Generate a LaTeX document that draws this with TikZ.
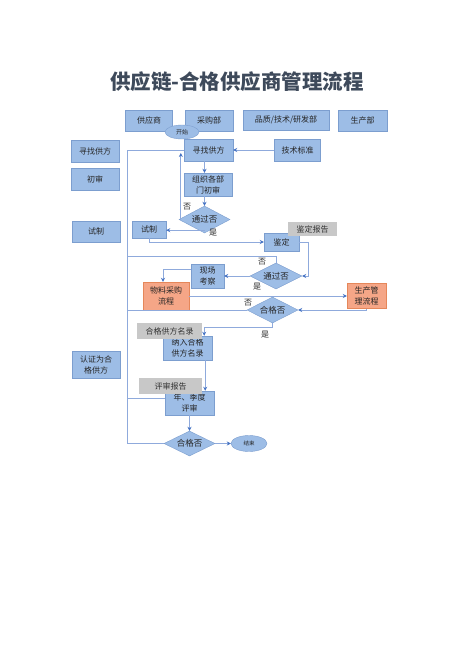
\documentclass[tikz,border=0pt]{standalone}
\usepackage{fontspec}
\setmainfont{Noto Sans CJK SC}
\usetikzlibrary{shapes.geometric,calc,shadows,arrows.meta}

\definecolor{boxfill}{HTML}{9DBDE6}
\definecolor{boxline}{HTML}{7C9ECF}
\definecolor{linkc}{HTML}{8FAADC}
\definecolor{tipc}{HTML}{4472C4}
\definecolor{orfill}{HTML}{F5A687}
\definecolor{orline}{HTML}{E5875A}
\definecolor{grfill}{HTML}{C8C8C8}
\definecolor{titlec}{HTML}{3E4A5B}

\tikzset{
	sz/.style 2 args={minimum width=#1, minimum height=#2},
	blk/.style={draw=boxline, fill=boxfill, inner sep=1pt, align=center,
		font=\fontsize{8}{11}\selectfont, text=black!85,
		drop shadow={opacity=.25, shadow xshift=.7pt, shadow yshift=-.7pt}},
	orbox/.style={blk, draw=orline, fill=orfill},
	note/.style={fill=grfill, inner sep=1pt, font=\fontsize{8}{10}\selectfont, text=black!80},
	dia/.style={diamond, aspect=2, draw=boxline, fill=boxfill, inner sep=0pt,
		font=\fontsize{8.5}{10}\selectfont, text=black!85},
	oval/.style={ellipse, draw=boxline, fill=boxfill, inner sep=0pt, text=black!85},
	tag/.style={inner sep=0pt, font=\fontsize{8}{10}\selectfont, text=black!85},
	link/.style={draw=linkc, line width=.8pt},
	arr/.style={link, -{Stealth[length=4pt, width=4pt, color=tipc]}},
}

\begin{document}
\begin{tikzpicture}[x=1pt, y=-1pt]
	\fill[white] (0,0) rectangle (474,670);
	\useasboundingbox (0,0) rectangle (474,670);

	\node[text=titlec, font=\fontsize{20.5}{24}\selectfont\bfseries] (title) at (237,82) {供应链-合格供应商管理流程};

	% header row
	\node[blk, sz={47}{21}] (hsup) at (149,120.5) {供应商};
	\node[blk, sz={48}{21}] (hbuy) at (209,120.5) {采购部};
	\node[blk, sz={86}{20}] (hqa) at (286,120) {品质/技术/研发部};
	\node[blk, sz={49}{21}] (hpro) at (362.5,120.5) {生产部};
	\node[oval, sz={34}{14}, font=\fontsize{6}{7}\selectfont] (start) at (182,132) {开始};

	% left column
	\node[blk, sz={48}{22}] (lfind) at (95,151) {寻找供方};
	\node[blk, sz={48}{22}] (lfirst) at (95,179) {初审};
	\node[blk, sz={48}{21}] (ltrial) at (96,231.5) {试制};
	\node[blk, sz={48}{27}] (lcert) at (96,364.5) {认证为合\\格供方};

	% main flow
	\node[blk, sz={49}{22}] (find) at (208.5,150) {寻找供方};
	\node[blk, sz={46}{22}] (std) at (297.5,150) {技术标准};
	\node[blk, sz={48}{23}] (org) at (208,184.5) {组织各部\\门初审};
	\node[dia, sz={51}{27}] (d1) at (204.5,219.5) {通过否};
	\node[blk, sz={34}{17}] (trial) at (149,229.5) {试制};
	\node[blk, sz={35}{18}] (appr) at (281.5,242) {鉴定};
	\node[note, sz={49}{14}] (aprep) at (312.5,229) {鉴定报告};
	\node[dia, sz={52}{26}] (d2) at (276,276) {通过否};
	\node[blk, sz={33}{24}] (site) at (207.5,276) {现场\\考察};
	\node[orbox, sz={46}{28}] (purch) at (166,296) {物料采购\\流程};
	\node[orbox, sz={39}{25}] (prod) at (366.5,296) {生产管\\理流程};
	\node[dia, sz={51}{26}] (d3) at (272.5,310) {合格否};
	\node[blk, sz={49}{24}] (enter) at (187.5,348) {纳入合格\\供方名录};
	\node[note, sz={65}{16}] (qlist) at (169.5,331) {合格供方名录};
	\node[blk, sz={49}{24}] (review) at (189.5,403) {年、季度\\评审};
	\node[note, sz={63}{16}] (rrep) at (170.5,386) {评审报告};
	\node[dia, sz={51}{25}] (d4) at (189.5,443.5) {合格否};
	\node[oval, sz={36}{16}, font=\fontsize{5.5}{7}\selectfont] (fin) at (249,443.5) {结束};

	\coordinate (lpT) at (127,150);

	% connectors
	\draw[arr] (std) -- (find);
	\draw[arr] (find.south -| d1) -- (org.north -| d1);
	\draw[arr] (org.south -| d1) -- (d1.north);
	\draw[arr] ($(d1.west)+(2,0)$) -- ($(find.west)+(-3,3)$);
	\draw[arr] ($(d1.south)+(0,-3)$) coordinate (d1b) -- (d1b -| trial.east);
	\draw[arr] (trial.south) |- (appr.west);
	\draw[arr] (appr.east) -- ++(9,0) |- (d2.east);
	\draw[link] (d2.north) -- ++(0,-6) coordinate (n2) -- (n2 -| lpT);
	\draw[arr] (d2.west) -- (site.east);
	\draw[arr] ($(site.west)+(0,-7)$) -| ($(purch.north)+(-3,0)$);
	\draw[arr] (purch.east) -- (prod.west);
	\draw[arr] (prod.south) |- (d3.east);
	\draw[link] (d3.west) -- (d3.west -| lpT);
	\draw[arr] (d3.south) -- ++(0,4) -| ($(enter.north east)+(-8,0)$);
	\draw[arr] ($(enter.south east)+(-7,0)$) -- ($(review.north east)+(-9,0)$);
	\draw[link] ($(review.west)+(0,-5)$) coordinate (rw) -- (rw -| lpT);
	\draw[arr] (review) -- (d4);
	\draw[arr] (d4.east) -- (fin.west);
	\draw[link] (d4.west) -| (lpT) -- (find.west);

	% yes / no labels
	\node[tag] (n1) at (187,207) {否};
	\node[tag] (y1) at (213,233) {是};
	\node[tag] (n2l) at (262,262) {否};
	\node[tag] (y2) at (257,287) {是};
	\node[tag] (n3) at (248,303) {否};
	\node[tag] (y3) at (265,335) {是};
\end{tikzpicture}
\end{document}
